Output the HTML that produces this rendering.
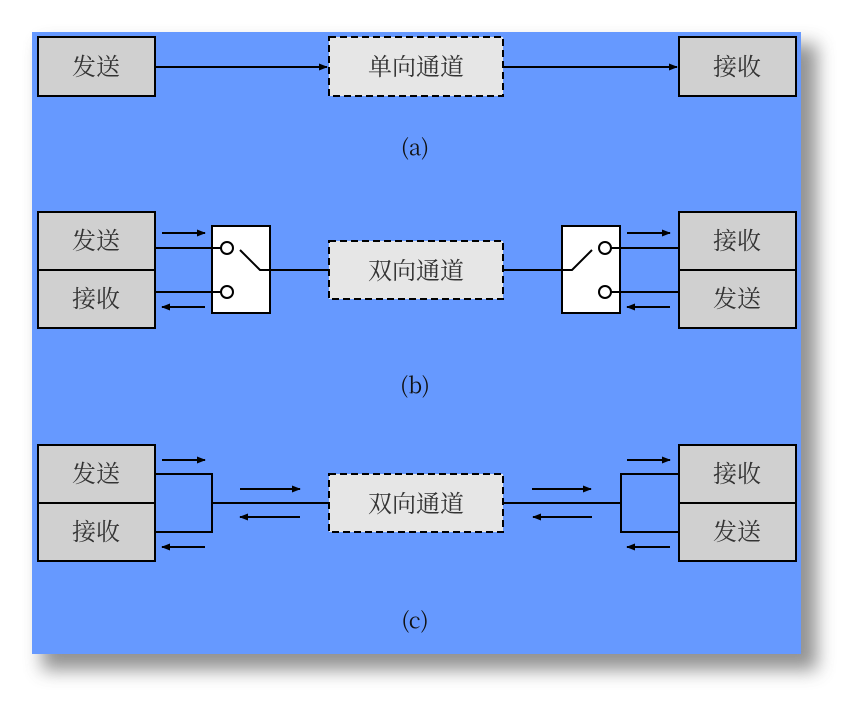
<!DOCTYPE html>
<html><head><meta charset="utf-8"><style>
html,body{margin:0;padding:0;background:#fff;}
</style></head><body>
<svg width="866" height="720" xmlns="http://www.w3.org/2000/svg" style="display:block">
<defs>
<filter id="sh" x="-10%" y="-10%" width="125%" height="125%"><feGaussianBlur stdDeviation="9"/></filter>
<marker id="ar" viewBox="0 0 10 10" refX="9" refY="5" markerWidth="4.5" markerHeight="4.5" orient="auto"><path d="M0,1 L10,5 L0,9 z" fill="#000"/></marker>
</defs>
<rect x="42" y="44" width="775" height="626" fill="#777" filter="url(#sh)" opacity="0.8"/>
<rect x="32" y="32" width="769" height="622" fill="#6699ff"/>
<g font-family="'Noto Serif CJK SC','Liberation Serif',serif" font-size="24" fill="#333" text-anchor="middle">
<!-- a -->
<rect x="38" y="37" width="117" height="59" fill="#d0d0d0" stroke="#000" stroke-width="2"/>
<text x="96" y="75">发送</text>
<rect x="329" y="37" width="174" height="59" fill="#e6e6e6" stroke="#000" stroke-width="2" stroke-dasharray="7,4"/>
<text x="416" y="75">单向通道</text>
<rect x="679" y="37" width="117" height="59" fill="#d0d0d0" stroke="#000" stroke-width="2"/>
<text x="737" y="75">接收</text>
<line x1="155" y1="67" x2="327" y2="67" stroke="#000" stroke-width="2" marker-end="url(#ar)"/>
<line x1="503" y1="67" x2="677" y2="67" stroke="#000" stroke-width="2" marker-end="url(#ar)"/>
<text x="415" y="155" font-size="22" fill="#111">(a)</text>
<!-- b -->
<rect x="38" y="212" width="117" height="58" fill="#d0d0d0" stroke="#000" stroke-width="2"/>
<rect x="38" y="270" width="117" height="58" fill="#d0d0d0" stroke="#000" stroke-width="2"/>
<text x="96" y="249">发送</text><text x="96" y="307">接收</text>
<rect x="679" y="212" width="117" height="58" fill="#d0d0d0" stroke="#000" stroke-width="2"/>
<rect x="679" y="270" width="117" height="58" fill="#d0d0d0" stroke="#000" stroke-width="2"/>
<text x="737" y="249">接收</text><text x="737" y="307">发送</text>
<rect x="329" y="241" width="174" height="58" fill="#e6e6e6" stroke="#000" stroke-width="2" stroke-dasharray="7,4"/>
<text x="416" y="279">双向通道</text>
<rect x="212" y="226" width="58" height="87" fill="#fff" stroke="#000" stroke-width="2"/>
<rect x="562" y="226" width="58" height="87" fill="#fff" stroke="#000" stroke-width="2"/>
<g stroke="#000" stroke-width="2" fill="none">
<line x1="155" y1="248" x2="221" y2="248"/><line x1="155" y1="292" x2="221" y2="292"/>
<circle cx="227" cy="248" r="6" fill="#fff"/><circle cx="227" cy="292" r="6" fill="#fff"/>
<polyline points="240,250 260,270 329,270"/>
<line x1="611" y1="248" x2="679" y2="248"/><line x1="611" y1="292" x2="679" y2="292"/>
<circle cx="605" cy="248" r="6" fill="#fff"/><circle cx="605" cy="292" r="6" fill="#fff"/>
<polyline points="592,250 572,270 503,270"/>
<line x1="162" y1="233" x2="205" y2="233" marker-end="url(#ar)"/>
<line x1="205" y1="307" x2="162" y2="307" marker-end="url(#ar)"/>
<line x1="627" y1="233" x2="670" y2="233" marker-end="url(#ar)"/>
<line x1="670" y1="307" x2="627" y2="307" marker-end="url(#ar)"/>
</g>
<text x="415" y="393" font-size="22" fill="#111">(b)</text>
<!-- c -->
<rect x="38" y="445" width="117" height="58" fill="#d0d0d0" stroke="#000" stroke-width="2"/>
<rect x="38" y="503" width="117" height="58" fill="#d0d0d0" stroke="#000" stroke-width="2"/>
<text x="96" y="482">发送</text><text x="96" y="540">接收</text>
<rect x="679" y="445" width="117" height="58" fill="#d0d0d0" stroke="#000" stroke-width="2"/>
<rect x="679" y="503" width="117" height="58" fill="#d0d0d0" stroke="#000" stroke-width="2"/>
<text x="737" y="482">接收</text><text x="737" y="540">发送</text>
<rect x="329" y="474" width="174" height="58" fill="#e6e6e6" stroke="#000" stroke-width="2" stroke-dasharray="7,4"/>
<text x="416" y="512">双向通道</text>
<g stroke="#000" stroke-width="2" fill="none">
<polyline points="155,474 212,474 212,532 155,532"/><line x1="212" y1="503" x2="329" y2="503"/>
<polyline points="679,474 621,474 621,532 679,532"/><line x1="503" y1="503" x2="621" y2="503"/>
<line x1="162" y1="460" x2="205" y2="460" marker-end="url(#ar)"/>
<line x1="205" y1="547" x2="162" y2="547" marker-end="url(#ar)"/>
<line x1="240" y1="489" x2="300" y2="489" marker-end="url(#ar)"/>
<line x1="300" y1="517" x2="240" y2="517" marker-end="url(#ar)"/>
<line x1="627" y1="460" x2="670" y2="460" marker-end="url(#ar)"/>
<line x1="670" y1="547" x2="627" y2="547" marker-end="url(#ar)"/>
<line x1="532" y1="489" x2="591" y2="489" marker-end="url(#ar)"/>
<line x1="592" y1="517" x2="533" y2="517" marker-end="url(#ar)"/>
</g>
<text x="415" y="628" font-size="22" fill="#111">(c)</text>
</g>
</svg>
</body></html>
